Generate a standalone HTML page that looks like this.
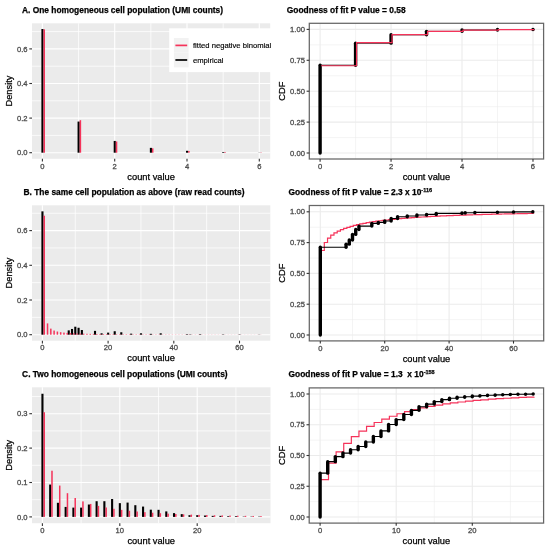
<!DOCTYPE html>
<html><head><meta charset="utf-8"><style>
html,body{margin:0;padding:0;background:#fff;width:549px;height:550px;overflow:hidden}
svg{display:block;will-change:transform}
text{font-family:"Liberation Sans",sans-serif}
</style></head><body>
<svg width="549" height="550" viewBox="0 0 549 550">
<rect x="32" y="23.3" width="238.2" height="135.5" fill="#EBEBEB"/>
<line x1="32" x2="270.2" y1="135.4" y2="135.4" stroke="#fff" stroke-width="0.75"/>
<line x1="32" x2="270.2" y1="100.8" y2="100.8" stroke="#fff" stroke-width="0.75"/>
<line x1="32" x2="270.2" y1="66.2" y2="66.2" stroke="#fff" stroke-width="0.75"/>
<line x1="32" x2="270.2" y1="31.6" y2="31.6" stroke="#fff" stroke-width="0.75"/>
<line x1="78.55" x2="78.55" y1="23.3" y2="158.8" stroke="#fff" stroke-width="0.75"/>
<line x1="150.85" x2="150.85" y1="23.3" y2="158.8" stroke="#fff" stroke-width="0.75"/>
<line x1="223.15" x2="223.15" y1="23.3" y2="158.8" stroke="#fff" stroke-width="0.75"/>
<line x1="32" x2="270.2" y1="152.7" y2="152.7" stroke="#fff" stroke-width="1.1"/>
<line x1="32" x2="270.2" y1="118.1" y2="118.1" stroke="#fff" stroke-width="1.1"/>
<line x1="32" x2="270.2" y1="83.5" y2="83.5" stroke="#fff" stroke-width="1.1"/>
<line x1="32" x2="270.2" y1="48.9" y2="48.9" stroke="#fff" stroke-width="1.1"/>
<line x1="42.4" x2="42.4" y1="23.3" y2="158.8" stroke="#fff" stroke-width="1.1"/>
<line x1="114.7" x2="114.7" y1="23.3" y2="158.8" stroke="#fff" stroke-width="1.1"/>
<line x1="187" x2="187" y1="23.3" y2="158.8" stroke="#fff" stroke-width="1.1"/>
<line x1="259.3" x2="259.3" y1="23.3" y2="158.8" stroke="#fff" stroke-width="1.1"/>
<line x1="29.3" x2="32" y1="152.7" y2="152.7" stroke="#333" stroke-width="1.1"/>
<text x="27.6" y="155.3" text-anchor="end" font-size="7.6" fill="#4D4D4D" stroke="#4D4D4D" stroke-width="0.3">0.0</text>
<line x1="29.3" x2="32" y1="118.1" y2="118.1" stroke="#333" stroke-width="1.1"/>
<text x="27.6" y="120.7" text-anchor="end" font-size="7.6" fill="#4D4D4D" stroke="#4D4D4D" stroke-width="0.3">0.2</text>
<line x1="29.3" x2="32" y1="83.5" y2="83.5" stroke="#333" stroke-width="1.1"/>
<text x="27.6" y="86.1" text-anchor="end" font-size="7.6" fill="#4D4D4D" stroke="#4D4D4D" stroke-width="0.3">0.4</text>
<line x1="29.3" x2="32" y1="48.9" y2="48.9" stroke="#333" stroke-width="1.1"/>
<text x="27.6" y="51.5" text-anchor="end" font-size="7.6" fill="#4D4D4D" stroke="#4D4D4D" stroke-width="0.3">0.6</text>
<line x1="42.4" x2="42.4" y1="158.8" y2="161.5" stroke="#333" stroke-width="1.1"/>
<text x="42.4" y="168.5" text-anchor="middle" font-size="7.6" fill="#4D4D4D" stroke="#4D4D4D" stroke-width="0.3">0</text>
<line x1="114.7" x2="114.7" y1="158.8" y2="161.5" stroke="#333" stroke-width="1.1"/>
<text x="114.7" y="168.5" text-anchor="middle" font-size="7.6" fill="#4D4D4D" stroke="#4D4D4D" stroke-width="0.3">2</text>
<line x1="187" x2="187" y1="158.8" y2="161.5" stroke="#333" stroke-width="1.1"/>
<text x="187" y="168.5" text-anchor="middle" font-size="7.6" fill="#4D4D4D" stroke="#4D4D4D" stroke-width="0.3">4</text>
<line x1="259.3" x2="259.3" y1="158.8" y2="161.5" stroke="#333" stroke-width="1.1"/>
<text x="259.3" y="168.5" text-anchor="middle" font-size="7.6" fill="#4D4D4D" stroke="#4D4D4D" stroke-width="0.3">6</text>
<text x="151.1" y="179.5" text-anchor="middle" font-size="9.3" fill="#000" stroke="#000" stroke-width="0.25">count value</text>
<text transform="translate(12,91.05) rotate(-90)" text-anchor="middle" font-size="9.3" fill="#000" stroke="#000" stroke-width="0.25">Density</text>
<rect x="41.4" y="29" width="2.1" height="123.69" fill="#000"/>
<rect x="77.55" y="121.56" width="2.1" height="31.14" fill="#000"/>
<rect x="113.7" y="140.94" width="2.1" height="11.76" fill="#000"/>
<rect x="149.85" y="147.86" width="2.1" height="4.84" fill="#000"/>
<rect x="186" y="150.8" width="2.1" height="1.9" fill="#000"/>
<rect x="222.15" y="152.01" width="2.1" height="0.69" fill="#000"/>
<rect x="258.3" y="152.53" width="2.1" height="0.17" fill="#000"/>
<rect x="43.5" y="29.35" width="1.5" height="123.35" fill="#F5335A"/>
<rect x="79.65" y="120.18" width="1.5" height="32.52" fill="#F5335A"/>
<rect x="115.8" y="141.49" width="1.5" height="11.21" fill="#F5335A"/>
<rect x="151.95" y="148.33" width="1.5" height="4.37" fill="#F5335A"/>
<rect x="188.1" y="150.92" width="1.5" height="1.78" fill="#F5335A"/>
<rect x="224.25" y="151.96" width="1.5" height="0.74" fill="#F5335A"/>
<rect x="260.4" y="152.39" width="1.5" height="0.31" fill="#F5335A"/>
<rect x="169.2" y="28.3" width="104" height="43.8" fill="#fff"/>
<rect x="173.9" y="38" width="14.7" height="14.7" fill="#F2F2F2"/>
<rect x="173.9" y="52.7" width="14.7" height="14.7" fill="#F2F2F2"/>
<line x1="175.4" x2="187.2" y1="45.4" y2="45.4" stroke="#F5335A" stroke-width="1.7"/>
<line x1="175.4" x2="187.2" y1="60" y2="60" stroke="#000" stroke-width="1.7"/>
<text x="193" y="48" font-size="7.65" fill="#000" stroke="#000" stroke-width="0.15">fitted negative binomial</text>
<text x="193" y="62.6" font-size="7.65" fill="#000" stroke="#000" stroke-width="0.15">empirical</text>
<text x="22" y="12.7" font-size="8.4" font-weight="bold" fill="#000" stroke="#000" stroke-width="0.25">A. One homogeneous cell population (UMI counts)</text>
<rect x="32" y="205.3" width="238.3" height="135.4" fill="#EBEBEB"/>
<line x1="32" x2="270.3" y1="317.35" y2="317.35" stroke="#fff" stroke-width="0.75"/>
<line x1="32" x2="270.3" y1="282.65" y2="282.65" stroke="#fff" stroke-width="0.75"/>
<line x1="32" x2="270.3" y1="247.95" y2="247.95" stroke="#fff" stroke-width="0.75"/>
<line x1="32" x2="270.3" y1="213.25" y2="213.25" stroke="#fff" stroke-width="0.75"/>
<line x1="75.25" x2="75.25" y1="205.3" y2="340.7" stroke="#fff" stroke-width="0.75"/>
<line x1="140.95" x2="140.95" y1="205.3" y2="340.7" stroke="#fff" stroke-width="0.75"/>
<line x1="206.65" x2="206.65" y1="205.3" y2="340.7" stroke="#fff" stroke-width="0.75"/>
<line x1="32" x2="270.3" y1="334.7" y2="334.7" stroke="#fff" stroke-width="1.1"/>
<line x1="32" x2="270.3" y1="300" y2="300" stroke="#fff" stroke-width="1.1"/>
<line x1="32" x2="270.3" y1="265.3" y2="265.3" stroke="#fff" stroke-width="1.1"/>
<line x1="32" x2="270.3" y1="230.6" y2="230.6" stroke="#fff" stroke-width="1.1"/>
<line x1="42.4" x2="42.4" y1="205.3" y2="340.7" stroke="#fff" stroke-width="1.1"/>
<line x1="108.1" x2="108.1" y1="205.3" y2="340.7" stroke="#fff" stroke-width="1.1"/>
<line x1="173.8" x2="173.8" y1="205.3" y2="340.7" stroke="#fff" stroke-width="1.1"/>
<line x1="239.5" x2="239.5" y1="205.3" y2="340.7" stroke="#fff" stroke-width="1.1"/>
<line x1="29.3" x2="32" y1="334.7" y2="334.7" stroke="#333" stroke-width="1.1"/>
<text x="27.6" y="337.3" text-anchor="end" font-size="7.6" fill="#4D4D4D" stroke="#4D4D4D" stroke-width="0.3">0.0</text>
<line x1="29.3" x2="32" y1="300" y2="300" stroke="#333" stroke-width="1.1"/>
<text x="27.6" y="302.6" text-anchor="end" font-size="7.6" fill="#4D4D4D" stroke="#4D4D4D" stroke-width="0.3">0.2</text>
<line x1="29.3" x2="32" y1="265.3" y2="265.3" stroke="#333" stroke-width="1.1"/>
<text x="27.6" y="267.9" text-anchor="end" font-size="7.6" fill="#4D4D4D" stroke="#4D4D4D" stroke-width="0.3">0.4</text>
<line x1="29.3" x2="32" y1="230.6" y2="230.6" stroke="#333" stroke-width="1.1"/>
<text x="27.6" y="233.2" text-anchor="end" font-size="7.6" fill="#4D4D4D" stroke="#4D4D4D" stroke-width="0.3">0.6</text>
<line x1="42.4" x2="42.4" y1="340.7" y2="343.4" stroke="#333" stroke-width="1.1"/>
<text x="42.4" y="350.4" text-anchor="middle" font-size="7.6" fill="#4D4D4D" stroke="#4D4D4D" stroke-width="0.3">0</text>
<line x1="108.1" x2="108.1" y1="340.7" y2="343.4" stroke="#333" stroke-width="1.1"/>
<text x="108.1" y="350.4" text-anchor="middle" font-size="7.6" fill="#4D4D4D" stroke="#4D4D4D" stroke-width="0.3">20</text>
<line x1="173.8" x2="173.8" y1="340.7" y2="343.4" stroke="#333" stroke-width="1.1"/>
<text x="173.8" y="350.4" text-anchor="middle" font-size="7.6" fill="#4D4D4D" stroke="#4D4D4D" stroke-width="0.3">40</text>
<line x1="239.5" x2="239.5" y1="340.7" y2="343.4" stroke="#333" stroke-width="1.1"/>
<text x="239.5" y="350.4" text-anchor="middle" font-size="7.6" fill="#4D4D4D" stroke="#4D4D4D" stroke-width="0.3">60</text>
<text x="151.15" y="361.4" text-anchor="middle" font-size="9.3" fill="#000" stroke="#000" stroke-width="0.25">count value</text>
<text transform="translate(12,273) rotate(-90)" text-anchor="middle" font-size="9.3" fill="#000" stroke="#000" stroke-width="0.25">Density</text>
<rect x="41.4" y="211.34" width="2.1" height="123.36" fill="#000"/>
<rect x="67.68" y="330.36" width="2.1" height="4.34" fill="#000"/>
<rect x="70.97" y="328.97" width="2.1" height="5.73" fill="#000"/>
<rect x="74.25" y="326.72" width="2.1" height="7.98" fill="#000"/>
<rect x="77.53" y="327.76" width="2.1" height="6.94" fill="#000"/>
<rect x="80.82" y="330.02" width="2.1" height="4.68" fill="#000"/>
<rect x="93.96" y="330.88" width="2.1" height="3.82" fill="#000"/>
<rect x="100.53" y="333.31" width="2.1" height="1.39" fill="#000"/>
<rect x="107.1" y="332.62" width="2.1" height="2.08" fill="#000"/>
<rect x="113.67" y="331.23" width="2.1" height="3.47" fill="#000"/>
<rect x="120.24" y="332.27" width="2.1" height="2.43" fill="#000"/>
<rect x="130.09" y="333.66" width="2.1" height="1.04" fill="#000"/>
<rect x="139.95" y="333.31" width="2.1" height="1.39" fill="#000"/>
<rect x="149.81" y="333.83" width="2.1" height="0.87" fill="#000"/>
<rect x="159.66" y="333.31" width="2.1" height="1.39" fill="#000"/>
<rect x="185.94" y="334.18" width="2.1" height="0.52" fill="#000"/>
<rect x="189.23" y="334.35" width="2.1" height="0.35" fill="#000"/>
<rect x="199.08" y="334.18" width="2.1" height="0.52" fill="#000"/>
<rect x="222.08" y="334.35" width="2.1" height="0.35" fill="#000"/>
<rect x="238.5" y="334.35" width="2.1" height="0.35" fill="#000"/>
<rect x="258.21" y="334.53" width="2.1" height="0.17" fill="#000"/>
<rect x="43.5" y="215.72" width="1.5" height="118.98" fill="#F5335A"/>
<rect x="46.79" y="323.39" width="1.5" height="11.31" fill="#F5335A"/>
<rect x="50.07" y="328.62" width="1.5" height="6.08" fill="#F5335A"/>
<rect x="53.35" y="330.54" width="1.5" height="4.16" fill="#F5335A"/>
<rect x="56.64" y="331.54" width="1.5" height="3.16" fill="#F5335A"/>
<rect x="59.93" y="332.17" width="1.5" height="2.53" fill="#F5335A"/>
<rect x="63.21" y="332.59" width="1.5" height="2.11" fill="#F5335A"/>
<rect x="66.49" y="332.9" width="1.5" height="1.8" fill="#F5335A"/>
<rect x="69.78" y="333.14" width="1.5" height="1.56" fill="#F5335A"/>
<rect x="73.06" y="333.32" width="1.5" height="1.38" fill="#F5335A"/>
<rect x="76.35" y="333.47" width="1.5" height="1.23" fill="#F5335A"/>
<rect x="79.63" y="333.6" width="1.5" height="1.1" fill="#F5335A"/>
<rect x="82.92" y="333.7" width="1.5" height="1" fill="#F5335A"/>
<rect x="86.2" y="333.79" width="1.5" height="0.91" fill="#F5335A"/>
<rect x="89.49" y="333.87" width="1.5" height="0.83" fill="#F5335A"/>
<rect x="92.78" y="333.93" width="1.5" height="0.77" fill="#F5335A"/>
<rect x="96.06" y="333.99" width="1.5" height="0.71" fill="#F5335A"/>
<rect x="99.34" y="334.04" width="1.5" height="0.66" fill="#F5335A"/>
<rect x="102.63" y="334.09" width="1.5" height="0.61" fill="#F5335A"/>
<rect x="105.91" y="334.13" width="1.5" height="0.57" fill="#F5335A"/>
<rect x="109.2" y="334.17" width="1.5" height="0.53" fill="#F5335A"/>
<rect x="112.48" y="334.2" width="1.5" height="0.5" fill="#F5335A"/>
<rect x="115.77" y="334.23" width="1.5" height="0.47" fill="#F5335A"/>
<rect x="119.06" y="334.26" width="1.5" height="0.44" fill="#F5335A"/>
<rect x="122.34" y="334.28" width="1.5" height="0.42" fill="#F5335A"/>
<rect x="125.62" y="334.31" width="1.5" height="0.39" fill="#F5335A"/>
<rect x="128.91" y="334.33" width="1.5" height="0.37" fill="#F5335A"/>
<rect x="132.19" y="334.35" width="1.5" height="0.35" fill="#F5335A"/>
<rect x="135.48" y="334.37" width="1.5" height="0.33" fill="#F5335A"/>
<rect x="138.76" y="334.38" width="1.5" height="0.32" fill="#F5335A"/>
<rect x="142.05" y="334.4" width="1.5" height="0.3" fill="#F5335A"/>
<rect x="145.34" y="334.41" width="1.5" height="0.29" fill="#F5335A"/>
<rect x="148.62" y="334.43" width="1.5" height="0.27" fill="#F5335A"/>
<rect x="151.91" y="334.44" width="1.5" height="0.26" fill="#F5335A"/>
<rect x="155.19" y="334.45" width="1.5" height="0.25" fill="#F5335A"/>
<rect x="158.47" y="334.46" width="1.5" height="0.24" fill="#F5335A"/>
<rect x="161.76" y="334.47" width="1.5" height="0.23" fill="#F5335A"/>
<rect x="165.04" y="334.48" width="1.5" height="0.22" fill="#F5335A"/>
<rect x="168.33" y="334.49" width="1.5" height="0.21" fill="#F5335A"/>
<rect x="171.62" y="334.5" width="1.5" height="0.2" fill="#F5335A"/>
<rect x="174.9" y="334.51" width="1.5" height="0.19" fill="#F5335A"/>
<rect x="178.19" y="334.52" width="1.5" height="0.18" fill="#F5335A"/>
<rect x="181.47" y="334.53" width="1.5" height="0.17" fill="#F5335A"/>
<rect x="184.75" y="334.53" width="1.5" height="0.17" fill="#F5335A"/>
<rect x="188.04" y="334.54" width="1.5" height="0.16" fill="#F5335A"/>
<rect x="191.33" y="334.55" width="1.5" height="0.15" fill="#F5335A"/>
<rect x="194.61" y="334.55" width="1.5" height="0.15" fill="#F5335A"/>
<rect x="197.9" y="334.56" width="1.5" height="0.14" fill="#F5335A"/>
<rect x="201.18" y="334.56" width="1.5" height="0.14" fill="#F5335A"/>
<rect x="204.47" y="334.57" width="1.5" height="0.13" fill="#F5335A"/>
<rect x="207.75" y="334.57" width="1.5" height="0.13" fill="#F5335A"/>
<rect x="211.03" y="334.58" width="1.5" height="0.12" fill="#F5335A"/>
<rect x="214.32" y="334.58" width="1.5" height="0.12" fill="#F5335A"/>
<rect x="217.61" y="334.59" width="1.5" height="0.11" fill="#F5335A"/>
<rect x="220.89" y="334.59" width="1.5" height="0.11" fill="#F5335A"/>
<rect x="224.18" y="334.6" width="1.5" height="0.1" fill="#F5335A"/>
<rect x="227.46" y="334.6" width="1.5" height="0.1" fill="#F5335A"/>
<rect x="230.75" y="334.6" width="1.5" height="0.1" fill="#F5335A"/>
<rect x="234.03" y="334.61" width="1.5" height="0.09" fill="#F5335A"/>
<rect x="237.31" y="334.61" width="1.5" height="0.09" fill="#F5335A"/>
<rect x="240.6" y="334.61" width="1.5" height="0.09" fill="#F5335A"/>
<rect x="243.89" y="334.62" width="1.5" height="0.08" fill="#F5335A"/>
<rect x="247.17" y="334.62" width="1.5" height="0.08" fill="#F5335A"/>
<rect x="250.46" y="334.62" width="1.5" height="0.08" fill="#F5335A"/>
<rect x="253.74" y="334.62" width="1.5" height="0.08" fill="#F5335A"/>
<rect x="257.03" y="334.63" width="1.5" height="0.07" fill="#F5335A"/>
<rect x="260.31" y="334.63" width="1.5" height="0.07" fill="#F5335A"/>
<text x="23.5" y="194.7" font-size="8.4" font-weight="bold" fill="#000" stroke="#000" stroke-width="0.25">B. The same cell population as above (raw read counts)</text>
<rect x="32" y="387.3" width="238.5" height="135.9" fill="#EBEBEB"/>
<line x1="32" x2="270.5" y1="499.7" y2="499.7" stroke="#fff" stroke-width="0.75"/>
<line x1="32" x2="270.5" y1="465.3" y2="465.3" stroke="#fff" stroke-width="0.75"/>
<line x1="32" x2="270.5" y1="430.9" y2="430.9" stroke="#fff" stroke-width="0.75"/>
<line x1="32" x2="270.5" y1="396.5" y2="396.5" stroke="#fff" stroke-width="0.75"/>
<line x1="81.1" x2="81.1" y1="387.3" y2="523.2" stroke="#fff" stroke-width="0.75"/>
<line x1="158.5" x2="158.5" y1="387.3" y2="523.2" stroke="#fff" stroke-width="0.75"/>
<line x1="235.9" x2="235.9" y1="387.3" y2="523.2" stroke="#fff" stroke-width="0.75"/>
<line x1="32" x2="270.5" y1="516.9" y2="516.9" stroke="#fff" stroke-width="1.1"/>
<line x1="32" x2="270.5" y1="482.5" y2="482.5" stroke="#fff" stroke-width="1.1"/>
<line x1="32" x2="270.5" y1="448.1" y2="448.1" stroke="#fff" stroke-width="1.1"/>
<line x1="32" x2="270.5" y1="413.7" y2="413.7" stroke="#fff" stroke-width="1.1"/>
<line x1="42.4" x2="42.4" y1="387.3" y2="523.2" stroke="#fff" stroke-width="1.1"/>
<line x1="119.8" x2="119.8" y1="387.3" y2="523.2" stroke="#fff" stroke-width="1.1"/>
<line x1="197.2" x2="197.2" y1="387.3" y2="523.2" stroke="#fff" stroke-width="1.1"/>
<line x1="29.3" x2="32" y1="516.9" y2="516.9" stroke="#333" stroke-width="1.1"/>
<text x="27.6" y="519.5" text-anchor="end" font-size="7.6" fill="#4D4D4D" stroke="#4D4D4D" stroke-width="0.3">0.0</text>
<line x1="29.3" x2="32" y1="482.5" y2="482.5" stroke="#333" stroke-width="1.1"/>
<text x="27.6" y="485.1" text-anchor="end" font-size="7.6" fill="#4D4D4D" stroke="#4D4D4D" stroke-width="0.3">0.1</text>
<line x1="29.3" x2="32" y1="448.1" y2="448.1" stroke="#333" stroke-width="1.1"/>
<text x="27.6" y="450.7" text-anchor="end" font-size="7.6" fill="#4D4D4D" stroke="#4D4D4D" stroke-width="0.3">0.2</text>
<line x1="29.3" x2="32" y1="413.7" y2="413.7" stroke="#333" stroke-width="1.1"/>
<text x="27.6" y="416.3" text-anchor="end" font-size="7.6" fill="#4D4D4D" stroke="#4D4D4D" stroke-width="0.3">0.3</text>
<line x1="42.4" x2="42.4" y1="523.2" y2="525.9" stroke="#333" stroke-width="1.1"/>
<text x="42.4" y="532.9" text-anchor="middle" font-size="7.6" fill="#4D4D4D" stroke="#4D4D4D" stroke-width="0.3">0</text>
<line x1="119.8" x2="119.8" y1="523.2" y2="525.9" stroke="#333" stroke-width="1.1"/>
<text x="119.8" y="532.9" text-anchor="middle" font-size="7.6" fill="#4D4D4D" stroke="#4D4D4D" stroke-width="0.3">10</text>
<line x1="197.2" x2="197.2" y1="523.2" y2="525.9" stroke="#333" stroke-width="1.1"/>
<text x="197.2" y="532.9" text-anchor="middle" font-size="7.6" fill="#4D4D4D" stroke="#4D4D4D" stroke-width="0.3">20</text>
<text x="151.25" y="543.9" text-anchor="middle" font-size="9.3" fill="#000" stroke="#000" stroke-width="0.25">count value</text>
<text transform="translate(12,455.25) rotate(-90)" text-anchor="middle" font-size="9.3" fill="#000" stroke="#000" stroke-width="0.25">Density</text>
<rect x="41.4" y="393.75" width="2.1" height="123.15" fill="#000"/>
<rect x="49.14" y="484.56" width="2.1" height="32.34" fill="#000"/>
<rect x="56.88" y="502.8" width="2.1" height="14.1" fill="#000"/>
<rect x="64.62" y="506.92" width="2.1" height="9.98" fill="#000"/>
<rect x="72.36" y="507.61" width="2.1" height="9.29" fill="#000"/>
<rect x="80.1" y="507.61" width="2.1" height="9.29" fill="#000"/>
<rect x="87.84" y="504.52" width="2.1" height="12.38" fill="#000"/>
<rect x="95.58" y="501.21" width="2.1" height="15.69" fill="#000"/>
<rect x="103.32" y="501.21" width="2.1" height="15.69" fill="#000"/>
<rect x="111.06" y="499.01" width="2.1" height="17.89" fill="#000"/>
<rect x="118.8" y="503.14" width="2.1" height="13.76" fill="#000"/>
<rect x="126.54" y="502.59" width="2.1" height="14.31" fill="#000"/>
<rect x="134.28" y="505.2" width="2.1" height="11.7" fill="#000"/>
<rect x="142.02" y="506.58" width="2.1" height="10.32" fill="#000"/>
<rect x="149.76" y="509.68" width="2.1" height="7.22" fill="#000"/>
<rect x="157.5" y="509.81" width="2.1" height="7.09" fill="#000"/>
<rect x="165.24" y="511.4" width="2.1" height="5.5" fill="#000"/>
<rect x="172.98" y="513.12" width="2.1" height="3.78" fill="#000"/>
<rect x="180.72" y="514.15" width="2.1" height="2.75" fill="#000"/>
<rect x="188.46" y="515.18" width="2.1" height="1.72" fill="#000"/>
<rect x="196.2" y="515.18" width="2.1" height="1.72" fill="#000"/>
<rect x="203.94" y="515.52" width="2.1" height="1.38" fill="#000"/>
<rect x="211.68" y="515.87" width="2.1" height="1.03" fill="#000"/>
<rect x="219.42" y="515.87" width="2.1" height="1.03" fill="#000"/>
<rect x="227.16" y="516.21" width="2.1" height="0.69" fill="#000"/>
<rect x="234.9" y="516.21" width="2.1" height="0.69" fill="#000"/>
<rect x="242.64" y="516.56" width="2.1" height="0.34" fill="#000"/>
<rect x="250.38" y="516.56" width="2.1" height="0.34" fill="#000"/>
<rect x="258.12" y="516.56" width="2.1" height="0.34" fill="#000"/>
<rect x="43.5" y="412.24" width="1.5" height="104.66" fill="#F5335A"/>
<rect x="51.24" y="470.72" width="1.5" height="46.18" fill="#F5335A"/>
<rect x="58.98" y="485.58" width="1.5" height="31.32" fill="#F5335A"/>
<rect x="66.72" y="493.18" width="1.5" height="23.72" fill="#F5335A"/>
<rect x="74.46" y="498" width="1.5" height="18.9" fill="#F5335A"/>
<rect x="82.2" y="501.4" width="1.5" height="15.5" fill="#F5335A"/>
<rect x="89.94" y="503.93" width="1.5" height="12.97" fill="#F5335A"/>
<rect x="97.68" y="505.91" width="1.5" height="10.99" fill="#F5335A"/>
<rect x="105.42" y="507.49" width="1.5" height="9.41" fill="#F5335A"/>
<rect x="113.16" y="508.79" width="1.5" height="8.11" fill="#F5335A"/>
<rect x="120.9" y="509.86" width="1.5" height="7.04" fill="#F5335A"/>
<rect x="128.64" y="510.76" width="1.5" height="6.14" fill="#F5335A"/>
<rect x="136.38" y="511.52" width="1.5" height="5.38" fill="#F5335A"/>
<rect x="144.12" y="512.17" width="1.5" height="4.73" fill="#F5335A"/>
<rect x="151.86" y="512.73" width="1.5" height="4.17" fill="#F5335A"/>
<rect x="159.6" y="513.22" width="1.5" height="3.68" fill="#F5335A"/>
<rect x="167.34" y="513.64" width="1.5" height="3.26" fill="#F5335A"/>
<rect x="175.08" y="514.01" width="1.5" height="2.89" fill="#F5335A"/>
<rect x="182.82" y="514.33" width="1.5" height="2.57" fill="#F5335A"/>
<rect x="190.56" y="514.61" width="1.5" height="2.29" fill="#F5335A"/>
<rect x="198.3" y="514.86" width="1.5" height="2.04" fill="#F5335A"/>
<rect x="206.04" y="515.08" width="1.5" height="1.82" fill="#F5335A"/>
<rect x="213.78" y="515.27" width="1.5" height="1.63" fill="#F5335A"/>
<rect x="221.52" y="515.44" width="1.5" height="1.46" fill="#F5335A"/>
<rect x="229.26" y="515.59" width="1.5" height="1.31" fill="#F5335A"/>
<rect x="237" y="515.73" width="1.5" height="1.17" fill="#F5335A"/>
<rect x="244.74" y="515.85" width="1.5" height="1.05" fill="#F5335A"/>
<rect x="252.48" y="515.96" width="1.5" height="0.94" fill="#F5335A"/>
<rect x="260.22" y="516.05" width="1.5" height="0.85" fill="#F5335A"/>
<text x="22.1" y="377" font-size="8.4" font-weight="bold" fill="#000" stroke="#000" stroke-width="0.25">C. Two homogeneous cell populations (UMI counts)</text>
<rect x="309.3" y="23.3" width="234.3" height="135.7" fill="#fff"/>
<line x1="309.3" x2="543.6" y1="137.55" y2="137.55" stroke="#EBEBEB" stroke-width="0.55"/>
<line x1="309.3" x2="543.6" y1="106.65" y2="106.65" stroke="#EBEBEB" stroke-width="0.55"/>
<line x1="309.3" x2="543.6" y1="75.75" y2="75.75" stroke="#EBEBEB" stroke-width="0.55"/>
<line x1="309.3" x2="543.6" y1="44.85" y2="44.85" stroke="#EBEBEB" stroke-width="0.55"/>
<line x1="355.58" x2="355.58" y1="23.3" y2="159" stroke="#EBEBEB" stroke-width="0.55"/>
<line x1="426.54" x2="426.54" y1="23.3" y2="159" stroke="#EBEBEB" stroke-width="0.55"/>
<line x1="497.5" x2="497.5" y1="23.3" y2="159" stroke="#EBEBEB" stroke-width="0.55"/>
<line x1="309.3" x2="543.6" y1="153" y2="153" stroke="#EBEBEB" stroke-width="1.1"/>
<line x1="309.3" x2="543.6" y1="122.1" y2="122.1" stroke="#EBEBEB" stroke-width="1.1"/>
<line x1="309.3" x2="543.6" y1="91.2" y2="91.2" stroke="#EBEBEB" stroke-width="1.1"/>
<line x1="309.3" x2="543.6" y1="60.3" y2="60.3" stroke="#EBEBEB" stroke-width="1.1"/>
<line x1="309.3" x2="543.6" y1="29.4" y2="29.4" stroke="#EBEBEB" stroke-width="1.1"/>
<line x1="320.1" x2="320.1" y1="23.3" y2="159" stroke="#EBEBEB" stroke-width="1.1"/>
<line x1="391.06" x2="391.06" y1="23.3" y2="159" stroke="#EBEBEB" stroke-width="1.1"/>
<line x1="462.02" x2="462.02" y1="23.3" y2="159" stroke="#EBEBEB" stroke-width="1.1"/>
<line x1="532.98" x2="532.98" y1="23.3" y2="159" stroke="#EBEBEB" stroke-width="1.1"/>
<path d="M320.1,65.24 L355.58,65.24 L355.58,43.15 L391.06,43.15 L391.06,34.8 L426.54,34.8 L426.54,31.36 L462.02,31.36 L462.02,30.01 L497.5,30.01 L497.5,29.52 L532.98,29.52 L532.98,29.4" fill="none" stroke="#000" stroke-width="1.0"/>
<line x1="320.1" x2="320.1" y1="153" y2="65.23" stroke="#000" stroke-width="3.4" stroke-linecap="round"/>
<line x1="355.58" x2="355.58" y1="65.24" y2="43.14" stroke="#000" stroke-width="3.4" stroke-linecap="round"/>
<line x1="391.06" x2="391.06" y1="43.15" y2="34.79" stroke="#000" stroke-width="3.4" stroke-linecap="round"/>
<line x1="426.54" x2="426.54" y1="34.8" y2="31.35" stroke="#000" stroke-width="3.4" stroke-linecap="round"/>
<line x1="462.02" x2="462.02" y1="31.36" y2="30" stroke="#000" stroke-width="3.4" stroke-linecap="round"/>
<line x1="497.5" x2="497.5" y1="30.01" y2="29.51" stroke="#000" stroke-width="3.4" stroke-linecap="round"/>
<line x1="532.98" x2="532.98" y1="29.52" y2="29.39" stroke="#000" stroke-width="3.4" stroke-linecap="round"/>
<path d="M321.1,65.77 L356.58,65.77 L356.58,42.54 L392.06,42.54 L392.06,34.53 L427.54,34.53 L427.54,31.4 L463.02,31.4 L463.02,30.13 L498.5,30.13 L498.5,29.6 L533.98,29.6 L533.98,29.38" fill="none" stroke="#F5335A" stroke-width="1.2"/>
<rect x="309.3" y="23.3" width="234.3" height="135.7" fill="none" stroke="#666" stroke-width="1.25"/>
<line x1="306.6" x2="309.3" y1="153" y2="153" stroke="#333" stroke-width="1.1"/>
<text x="304.9" y="155.6" text-anchor="end" font-size="7.6" fill="#4D4D4D" stroke="#4D4D4D" stroke-width="0.3">0.00</text>
<line x1="306.6" x2="309.3" y1="122.1" y2="122.1" stroke="#333" stroke-width="1.1"/>
<text x="304.9" y="124.7" text-anchor="end" font-size="7.6" fill="#4D4D4D" stroke="#4D4D4D" stroke-width="0.3">0.25</text>
<line x1="306.6" x2="309.3" y1="91.2" y2="91.2" stroke="#333" stroke-width="1.1"/>
<text x="304.9" y="93.8" text-anchor="end" font-size="7.6" fill="#4D4D4D" stroke="#4D4D4D" stroke-width="0.3">0.50</text>
<line x1="306.6" x2="309.3" y1="60.3" y2="60.3" stroke="#333" stroke-width="1.1"/>
<text x="304.9" y="62.9" text-anchor="end" font-size="7.6" fill="#4D4D4D" stroke="#4D4D4D" stroke-width="0.3">0.75</text>
<line x1="306.6" x2="309.3" y1="29.4" y2="29.4" stroke="#333" stroke-width="1.1"/>
<text x="304.9" y="32" text-anchor="end" font-size="7.6" fill="#4D4D4D" stroke="#4D4D4D" stroke-width="0.3">1.00</text>
<line x1="320.1" x2="320.1" y1="159" y2="161.7" stroke="#333" stroke-width="1.1"/>
<text x="320.1" y="168.7" text-anchor="middle" font-size="7.6" fill="#4D4D4D" stroke="#4D4D4D" stroke-width="0.3">0</text>
<line x1="391.06" x2="391.06" y1="159" y2="161.7" stroke="#333" stroke-width="1.1"/>
<text x="391.06" y="168.7" text-anchor="middle" font-size="7.6" fill="#4D4D4D" stroke="#4D4D4D" stroke-width="0.3">2</text>
<line x1="462.02" x2="462.02" y1="159" y2="161.7" stroke="#333" stroke-width="1.1"/>
<text x="462.02" y="168.7" text-anchor="middle" font-size="7.6" fill="#4D4D4D" stroke="#4D4D4D" stroke-width="0.3">4</text>
<line x1="532.98" x2="532.98" y1="159" y2="161.7" stroke="#333" stroke-width="1.1"/>
<text x="532.98" y="168.7" text-anchor="middle" font-size="7.6" fill="#4D4D4D" stroke="#4D4D4D" stroke-width="0.3">6</text>
<text x="426.45" y="179.7" text-anchor="middle" font-size="9.3" fill="#000" stroke="#000" stroke-width="0.25">count value</text>
<text transform="translate(285.3,91.15) rotate(-90)" text-anchor="middle" font-size="9.3" fill="#000" stroke="#000" stroke-width="0.25">CDF</text>
<text x="286.8" y="12.7" font-size="8.4" font-weight="bold" fill="#000" stroke="#000" stroke-width="0.25">Goodness of fit P value = 0.58</text>
<rect x="309.3" y="205.5" width="234.4" height="135.4" fill="#fff"/>
<line x1="309.3" x2="543.7" y1="319.6" y2="319.6" stroke="#EBEBEB" stroke-width="0.55"/>
<line x1="309.3" x2="543.7" y1="288.8" y2="288.8" stroke="#EBEBEB" stroke-width="0.55"/>
<line x1="309.3" x2="543.7" y1="258" y2="258" stroke="#EBEBEB" stroke-width="0.55"/>
<line x1="309.3" x2="543.7" y1="227.2" y2="227.2" stroke="#EBEBEB" stroke-width="0.55"/>
<line x1="352.5" x2="352.5" y1="205.5" y2="340.9" stroke="#EBEBEB" stroke-width="0.55"/>
<line x1="416.9" x2="416.9" y1="205.5" y2="340.9" stroke="#EBEBEB" stroke-width="0.55"/>
<line x1="481.3" x2="481.3" y1="205.5" y2="340.9" stroke="#EBEBEB" stroke-width="0.55"/>
<line x1="309.3" x2="543.7" y1="335" y2="335" stroke="#EBEBEB" stroke-width="1.1"/>
<line x1="309.3" x2="543.7" y1="304.2" y2="304.2" stroke="#EBEBEB" stroke-width="1.1"/>
<line x1="309.3" x2="543.7" y1="273.4" y2="273.4" stroke="#EBEBEB" stroke-width="1.1"/>
<line x1="309.3" x2="543.7" y1="242.6" y2="242.6" stroke="#EBEBEB" stroke-width="1.1"/>
<line x1="309.3" x2="543.7" y1="211.8" y2="211.8" stroke="#EBEBEB" stroke-width="1.1"/>
<line x1="320.3" x2="320.3" y1="205.5" y2="340.9" stroke="#EBEBEB" stroke-width="1.1"/>
<line x1="384.7" x2="384.7" y1="205.5" y2="340.9" stroke="#EBEBEB" stroke-width="1.1"/>
<line x1="449.1" x2="449.1" y1="205.5" y2="340.9" stroke="#EBEBEB" stroke-width="1.1"/>
<line x1="513.5" x2="513.5" y1="205.5" y2="340.9" stroke="#EBEBEB" stroke-width="1.1"/>
<path d="M321.1,250.52 L324.32,250.52 L324.32,242.49 L327.54,242.49 L327.54,238.17 L330.76,238.17 L330.76,235.22 L333.98,235.22 L333.98,232.97 L337.2,232.97 L337.2,231.18 L340.42,231.18 L340.42,229.68 L343.64,229.68 L343.64,228.4 L346.86,228.4 L346.86,227.29 L350.08,227.29 L350.08,226.32 L353.3,226.32 L353.3,225.44 L356.52,225.44 L356.52,224.66 L359.74,224.66 L359.74,223.95 L362.96,223.95 L362.96,223.31 L366.18,223.31 L366.18,222.71 L369.4,222.71 L369.4,222.17 L372.62,222.17 L372.62,221.66 L375.84,221.66 L375.84,221.2 L379.06,221.2 L379.06,220.76 L382.28,220.76 L382.28,220.36 L385.5,220.36 L385.5,219.98 L388.72,219.98 L388.72,219.62 L391.94,219.62 L391.94,219.29 L395.16,219.29 L395.16,218.97 L398.38,218.97 L398.38,218.68 L401.6,218.68 L401.6,218.4 L404.82,218.4 L404.82,218.13 L408.04,218.13 L408.04,217.88 L411.26,217.88 L411.26,217.64 L414.48,217.64 L414.48,217.42 L417.7,217.42 L417.7,217.2 L420.92,217.2 L420.92,217 L424.14,217 L424.14,216.81 L427.36,216.81 L427.36,216.62 L430.58,216.62 L430.58,216.45 L433.8,216.45 L433.8,216.28 L437.02,216.28 L437.02,216.12 L440.24,216.12 L440.24,215.96 L443.46,215.96 L443.46,215.82 L446.68,215.82 L446.68,215.68 L449.9,215.68 L449.9,215.54 L453.12,215.54 L453.12,215.41 L456.34,215.41 L456.34,215.29 L459.56,215.29 L459.56,215.17 L462.78,215.17 L462.78,215.06 L466,215.06 L466,214.95 L469.22,214.95 L469.22,214.85 L472.44,214.85 L472.44,214.75 L475.66,214.75 L475.66,214.65 L478.88,214.65 L478.88,214.56 L482.1,214.56 L482.1,214.47 L485.32,214.47 L485.32,214.38 L488.54,214.38 L488.54,214.3 L491.76,214.3 L491.76,214.22 L494.98,214.22 L494.98,214.14 L498.2,214.14 L498.2,214.07 L501.42,214.07 L501.42,214 L504.64,214 L504.64,213.93 L507.86,213.93 L507.86,213.86 L511.08,213.86 L511.08,213.8 L514.3,213.8 L514.3,213.74 L517.52,213.74 L517.52,213.68 L520.74,213.68 L520.74,213.62 L523.96,213.62 L523.96,213.57 L527.18,213.57 L527.18,213.51 L530.4,213.51 L530.4,213.46 L533.62,213.46 L533.62,213.41" fill="none" stroke="#F5335A" stroke-width="1.2"/>
<path d="M320.3,247.23 L323.52,247.23 L323.52,247.23 L326.74,247.23 L326.74,247.23 L329.96,247.23 L329.96,247.23 L333.18,247.23 L333.18,247.23 L336.4,247.23 L336.4,247.23 L339.62,247.23 L339.62,247.23 L342.84,247.23 L342.84,247.23 L346.06,247.23 L346.06,244.14 L349.28,244.14 L349.28,240.07 L352.5,240.07 L352.5,234.39 L355.72,234.39 L355.72,229.45 L358.94,229.45 L358.94,226.12 L362.16,226.12 L362.16,226.12 L365.38,226.12 L365.38,226.12 L368.6,226.12 L368.6,226.12 L371.82,226.12 L371.82,223.4 L375.04,223.4 L375.04,223.4 L378.26,223.4 L378.26,222.42 L381.48,222.42 L381.48,222.42 L384.7,222.42 L384.7,220.94 L387.92,220.94 L387.92,220.94 L391.14,220.94 L391.14,218.47 L394.36,218.47 L394.36,218.47 L397.58,218.47 L397.58,216.74 L400.8,216.74 L400.8,216.74 L404.02,216.74 L404.02,216.74 L407.24,216.74 L407.24,216 L410.46,216 L410.46,216 L413.68,216 L413.68,216 L416.9,216 L416.9,215.01 L420.12,215.01 L420.12,215.01 L423.34,215.01 L423.34,215.01 L426.56,215.01 L426.56,214.39 L429.78,214.39 L429.78,214.39 L433,214.39 L433,214.39 L436.22,214.39 L436.22,213.4 L439.44,213.4 L439.44,213.4 L442.66,213.4 L442.66,213.4 L445.88,213.4 L445.88,213.4 L449.1,213.4 L449.1,213.4 L452.32,213.4 L452.32,213.4 L455.54,213.4 L455.54,213.4 L458.76,213.4 L458.76,213.4 L461.98,213.4 L461.98,213.03 L465.2,213.03 L465.2,212.79 L468.42,212.79 L468.42,212.79 L471.64,212.79 L471.64,212.79 L474.86,212.79 L474.86,212.42 L478.08,212.42 L478.08,212.42 L481.3,212.42 L481.3,212.42 L484.52,212.42 L484.52,212.42 L487.74,212.42 L487.74,212.42 L490.96,212.42 L490.96,212.42 L494.18,212.42 L494.18,212.42 L497.4,212.42 L497.4,212.17 L500.62,212.17 L500.62,212.17 L503.84,212.17 L503.84,212.17 L507.06,212.17 L507.06,212.17 L510.28,212.17 L510.28,212.17 L513.5,212.17 L513.5,211.92 L516.72,211.92 L516.72,211.92 L519.94,211.92 L519.94,211.92 L523.16,211.92 L523.16,211.92 L526.38,211.92 L526.38,211.92 L529.6,211.92 L529.6,211.92 L532.82,211.92 L532.82,211.8" fill="none" stroke="#000" stroke-width="1.1"/>
<line x1="320.3" x2="320.3" y1="335" y2="247.22" stroke="#000" stroke-width="3.4" stroke-linecap="round"/>
<line x1="346.06" x2="346.06" y1="247.23" y2="244.13" stroke="#000" stroke-width="3.4" stroke-linecap="round"/>
<line x1="349.28" x2="349.28" y1="244.14" y2="240.06" stroke="#000" stroke-width="3.4" stroke-linecap="round"/>
<line x1="352.5" x2="352.5" y1="240.07" y2="234.38" stroke="#000" stroke-width="3.4" stroke-linecap="round"/>
<line x1="355.72" x2="355.72" y1="234.39" y2="229.44" stroke="#000" stroke-width="3.4" stroke-linecap="round"/>
<line x1="358.94" x2="358.94" y1="229.45" y2="226.11" stroke="#000" stroke-width="3.4" stroke-linecap="round"/>
<line x1="371.82" x2="371.82" y1="226.12" y2="223.39" stroke="#000" stroke-width="3.4" stroke-linecap="round"/>
<line x1="378.26" x2="378.26" y1="223.4" y2="222.41" stroke="#000" stroke-width="3.4" stroke-linecap="round"/>
<line x1="384.7" x2="384.7" y1="222.42" y2="220.93" stroke="#000" stroke-width="3.4" stroke-linecap="round"/>
<line x1="391.14" x2="391.14" y1="220.94" y2="218.46" stroke="#000" stroke-width="3.4" stroke-linecap="round"/>
<line x1="397.58" x2="397.58" y1="218.47" y2="216.73" stroke="#000" stroke-width="3.4" stroke-linecap="round"/>
<line x1="407.24" x2="407.24" y1="216.74" y2="215.99" stroke="#000" stroke-width="3.4" stroke-linecap="round"/>
<line x1="416.9" x2="416.9" y1="216" y2="215" stroke="#000" stroke-width="3.4" stroke-linecap="round"/>
<line x1="426.56" x2="426.56" y1="215.01" y2="214.38" stroke="#000" stroke-width="3.4" stroke-linecap="round"/>
<line x1="436.22" x2="436.22" y1="214.39" y2="213.39" stroke="#000" stroke-width="3.4" stroke-linecap="round"/>
<line x1="461.98" x2="461.98" y1="213.4" y2="213.02" stroke="#000" stroke-width="3.4" stroke-linecap="round"/>
<line x1="465.2" x2="465.2" y1="213.03" y2="212.78" stroke="#000" stroke-width="3.4" stroke-linecap="round"/>
<line x1="474.86" x2="474.86" y1="212.79" y2="212.41" stroke="#000" stroke-width="3.4" stroke-linecap="round"/>
<line x1="497.4" x2="497.4" y1="212.42" y2="212.16" stroke="#000" stroke-width="3.4" stroke-linecap="round"/>
<line x1="513.5" x2="513.5" y1="212.17" y2="211.91" stroke="#000" stroke-width="3.4" stroke-linecap="round"/>
<line x1="532.82" x2="532.82" y1="211.92" y2="211.79" stroke="#000" stroke-width="3.4" stroke-linecap="round"/>
<rect x="309.3" y="205.5" width="234.4" height="135.4" fill="none" stroke="#666" stroke-width="1.25"/>
<line x1="306.6" x2="309.3" y1="335" y2="335" stroke="#333" stroke-width="1.1"/>
<text x="304.9" y="337.6" text-anchor="end" font-size="7.6" fill="#4D4D4D" stroke="#4D4D4D" stroke-width="0.3">0.00</text>
<line x1="306.6" x2="309.3" y1="304.2" y2="304.2" stroke="#333" stroke-width="1.1"/>
<text x="304.9" y="306.8" text-anchor="end" font-size="7.6" fill="#4D4D4D" stroke="#4D4D4D" stroke-width="0.3">0.25</text>
<line x1="306.6" x2="309.3" y1="273.4" y2="273.4" stroke="#333" stroke-width="1.1"/>
<text x="304.9" y="276" text-anchor="end" font-size="7.6" fill="#4D4D4D" stroke="#4D4D4D" stroke-width="0.3">0.50</text>
<line x1="306.6" x2="309.3" y1="242.6" y2="242.6" stroke="#333" stroke-width="1.1"/>
<text x="304.9" y="245.2" text-anchor="end" font-size="7.6" fill="#4D4D4D" stroke="#4D4D4D" stroke-width="0.3">0.75</text>
<line x1="306.6" x2="309.3" y1="211.8" y2="211.8" stroke="#333" stroke-width="1.1"/>
<text x="304.9" y="214.4" text-anchor="end" font-size="7.6" fill="#4D4D4D" stroke="#4D4D4D" stroke-width="0.3">1.00</text>
<line x1="320.3" x2="320.3" y1="340.9" y2="343.6" stroke="#333" stroke-width="1.1"/>
<text x="320.3" y="350.6" text-anchor="middle" font-size="7.6" fill="#4D4D4D" stroke="#4D4D4D" stroke-width="0.3">0</text>
<line x1="384.7" x2="384.7" y1="340.9" y2="343.6" stroke="#333" stroke-width="1.1"/>
<text x="384.7" y="350.6" text-anchor="middle" font-size="7.6" fill="#4D4D4D" stroke="#4D4D4D" stroke-width="0.3">20</text>
<line x1="449.1" x2="449.1" y1="340.9" y2="343.6" stroke="#333" stroke-width="1.1"/>
<text x="449.1" y="350.6" text-anchor="middle" font-size="7.6" fill="#4D4D4D" stroke="#4D4D4D" stroke-width="0.3">40</text>
<line x1="513.5" x2="513.5" y1="340.9" y2="343.6" stroke="#333" stroke-width="1.1"/>
<text x="513.5" y="350.6" text-anchor="middle" font-size="7.6" fill="#4D4D4D" stroke="#4D4D4D" stroke-width="0.3">60</text>
<text x="426.5" y="361.6" text-anchor="middle" font-size="9.3" fill="#000" stroke="#000" stroke-width="0.25">count value</text>
<text transform="translate(285.3,273.2) rotate(-90)" text-anchor="middle" font-size="9.3" fill="#000" stroke="#000" stroke-width="0.25">CDF</text>
<text x="288.6" y="194.7" font-size="8.4" font-weight="bold" fill="#000" stroke="#000" stroke-width="0.25">Goodness of fit P value = 2.3 x 10<tspan dy="-3" font-size="5.5">-116</tspan></text>
<rect x="309.2" y="387.9" width="234.4" height="135.2" fill="#fff"/>
<line x1="309.2" x2="543.6" y1="501.62" y2="501.62" stroke="#EBEBEB" stroke-width="0.55"/>
<line x1="309.2" x2="543.6" y1="470.88" y2="470.88" stroke="#EBEBEB" stroke-width="0.55"/>
<line x1="309.2" x2="543.6" y1="440.12" y2="440.12" stroke="#EBEBEB" stroke-width="0.55"/>
<line x1="309.2" x2="543.6" y1="409.38" y2="409.38" stroke="#EBEBEB" stroke-width="0.55"/>
<line x1="358.15" x2="358.15" y1="387.9" y2="523.1" stroke="#EBEBEB" stroke-width="0.55"/>
<line x1="434.25" x2="434.25" y1="387.9" y2="523.1" stroke="#EBEBEB" stroke-width="0.55"/>
<line x1="510.35" x2="510.35" y1="387.9" y2="523.1" stroke="#EBEBEB" stroke-width="0.55"/>
<line x1="309.2" x2="543.6" y1="517" y2="517" stroke="#EBEBEB" stroke-width="1.1"/>
<line x1="309.2" x2="543.6" y1="486.25" y2="486.25" stroke="#EBEBEB" stroke-width="1.1"/>
<line x1="309.2" x2="543.6" y1="455.5" y2="455.5" stroke="#EBEBEB" stroke-width="1.1"/>
<line x1="309.2" x2="543.6" y1="424.75" y2="424.75" stroke="#EBEBEB" stroke-width="1.1"/>
<line x1="309.2" x2="543.6" y1="394" y2="394" stroke="#EBEBEB" stroke-width="1.1"/>
<line x1="320.1" x2="320.1" y1="387.9" y2="523.1" stroke="#EBEBEB" stroke-width="1.1"/>
<line x1="396.2" x2="396.2" y1="387.9" y2="523.1" stroke="#EBEBEB" stroke-width="1.1"/>
<line x1="472.3" x2="472.3" y1="387.9" y2="523.1" stroke="#EBEBEB" stroke-width="1.1"/>
<path d="M320.9,479.58 L328.51,479.58 L328.51,463.07 L336.12,463.07 L336.12,451.87 L343.73,451.87 L343.73,443.39 L351.34,443.39 L351.34,436.63 L358.95,436.63 L358.95,431.09 L366.56,431.09 L366.56,426.45 L374.17,426.45 L374.17,422.52 L381.78,422.52 L381.78,419.16 L389.39,419.16 L389.39,416.26 L397,416.26 L397,413.74 L404.61,413.74 L404.61,411.54 L412.22,411.54 L412.22,409.62 L419.83,409.62 L419.83,407.93 L427.44,407.93 L427.44,406.44 L435.05,406.44 L435.05,405.12 L442.66,405.12 L442.66,403.96 L450.27,403.96 L450.27,402.92 L457.88,402.92 L457.88,402 L465.49,402 L465.49,401.18 L473.1,401.18 L473.1,400.45 L480.71,400.45 L480.71,399.8 L488.32,399.8 L488.32,399.22 L495.93,399.22 L495.93,398.7 L503.54,398.7 L503.54,398.23 L511.15,398.23 L511.15,397.81 L518.76,397.81 L518.76,397.44 L526.37,397.44 L526.37,397.1 L533.98,397.1 L533.98,396.8" fill="none" stroke="#F5335A" stroke-width="1.2"/>
<path d="M320.1,473.16 L327.71,473.16 L327.71,461.65 L335.32,461.65 L335.32,456.63 L342.93,456.63 L342.93,453.08 L350.54,453.08 L350.54,449.77 L358.15,449.77 L358.15,446.46 L365.76,446.46 L365.76,442.05 L373.37,442.05 L373.37,436.47 L380.98,436.47 L380.98,430.89 L388.59,430.89 L388.59,424.52 L396.2,424.52 L396.2,419.62 L403.81,419.62 L403.81,414.52 L411.42,414.52 L411.42,410.36 L419.03,410.36 L419.03,406.69 L426.64,406.69 L426.64,404.12 L434.25,404.12 L434.25,401.59 L441.86,401.59 L441.86,399.63 L449.47,399.63 L449.47,398.29 L457.08,398.29 L457.08,397.31 L464.69,397.31 L464.69,396.69 L472.3,396.69 L472.3,396.08 L479.91,396.08 L479.91,395.59 L487.52,395.59 L487.52,395.22 L495.13,395.22 L495.13,394.86 L502.74,394.86 L502.74,394.61 L510.35,394.61 L510.35,394.37 L517.96,394.37 L517.96,394.24 L525.57,394.24 L525.57,394.12 L533.18,394.12 L533.18,394" fill="none" stroke="#000" stroke-width="1.1"/>
<line x1="320.1" x2="320.1" y1="517" y2="473.15" stroke="#000" stroke-width="3.4" stroke-linecap="round"/>
<line x1="327.71" x2="327.71" y1="473.16" y2="461.64" stroke="#000" stroke-width="3.4" stroke-linecap="round"/>
<line x1="335.32" x2="335.32" y1="461.65" y2="456.62" stroke="#000" stroke-width="3.4" stroke-linecap="round"/>
<line x1="342.93" x2="342.93" y1="456.63" y2="453.07" stroke="#000" stroke-width="3.4" stroke-linecap="round"/>
<line x1="350.54" x2="350.54" y1="453.08" y2="449.76" stroke="#000" stroke-width="3.4" stroke-linecap="round"/>
<line x1="358.15" x2="358.15" y1="449.77" y2="446.45" stroke="#000" stroke-width="3.4" stroke-linecap="round"/>
<line x1="365.76" x2="365.76" y1="446.46" y2="442.04" stroke="#000" stroke-width="3.4" stroke-linecap="round"/>
<line x1="373.37" x2="373.37" y1="442.05" y2="436.46" stroke="#000" stroke-width="3.4" stroke-linecap="round"/>
<line x1="380.98" x2="380.98" y1="436.47" y2="430.88" stroke="#000" stroke-width="3.4" stroke-linecap="round"/>
<line x1="388.59" x2="388.59" y1="430.89" y2="424.51" stroke="#000" stroke-width="3.4" stroke-linecap="round"/>
<line x1="396.2" x2="396.2" y1="424.52" y2="419.61" stroke="#000" stroke-width="3.4" stroke-linecap="round"/>
<line x1="403.81" x2="403.81" y1="419.62" y2="414.51" stroke="#000" stroke-width="3.4" stroke-linecap="round"/>
<line x1="411.42" x2="411.42" y1="414.52" y2="410.35" stroke="#000" stroke-width="3.4" stroke-linecap="round"/>
<line x1="419.03" x2="419.03" y1="410.36" y2="406.68" stroke="#000" stroke-width="3.4" stroke-linecap="round"/>
<line x1="426.64" x2="426.64" y1="406.69" y2="404.11" stroke="#000" stroke-width="3.4" stroke-linecap="round"/>
<line x1="434.25" x2="434.25" y1="404.12" y2="401.58" stroke="#000" stroke-width="3.4" stroke-linecap="round"/>
<line x1="441.86" x2="441.86" y1="401.59" y2="399.62" stroke="#000" stroke-width="3.4" stroke-linecap="round"/>
<line x1="449.47" x2="449.47" y1="399.63" y2="398.28" stroke="#000" stroke-width="3.4" stroke-linecap="round"/>
<line x1="457.08" x2="457.08" y1="398.29" y2="397.3" stroke="#000" stroke-width="3.4" stroke-linecap="round"/>
<line x1="464.69" x2="464.69" y1="397.31" y2="396.68" stroke="#000" stroke-width="3.4" stroke-linecap="round"/>
<line x1="472.3" x2="472.3" y1="396.69" y2="396.07" stroke="#000" stroke-width="3.4" stroke-linecap="round"/>
<line x1="479.91" x2="479.91" y1="396.08" y2="395.58" stroke="#000" stroke-width="3.4" stroke-linecap="round"/>
<line x1="487.52" x2="487.52" y1="395.59" y2="395.21" stroke="#000" stroke-width="3.4" stroke-linecap="round"/>
<line x1="495.13" x2="495.13" y1="395.22" y2="394.85" stroke="#000" stroke-width="3.4" stroke-linecap="round"/>
<line x1="502.74" x2="502.74" y1="394.86" y2="394.6" stroke="#000" stroke-width="3.4" stroke-linecap="round"/>
<line x1="510.35" x2="510.35" y1="394.61" y2="394.36" stroke="#000" stroke-width="3.4" stroke-linecap="round"/>
<line x1="517.96" x2="517.96" y1="394.37" y2="394.23" stroke="#000" stroke-width="3.4" stroke-linecap="round"/>
<line x1="525.57" x2="525.57" y1="394.24" y2="394.11" stroke="#000" stroke-width="3.4" stroke-linecap="round"/>
<line x1="533.18" x2="533.18" y1="394.12" y2="393.99" stroke="#000" stroke-width="3.4" stroke-linecap="round"/>
<rect x="309.2" y="387.9" width="234.4" height="135.2" fill="none" stroke="#666" stroke-width="1.25"/>
<line x1="306.5" x2="309.2" y1="517" y2="517" stroke="#333" stroke-width="1.1"/>
<text x="304.8" y="519.6" text-anchor="end" font-size="7.6" fill="#4D4D4D" stroke="#4D4D4D" stroke-width="0.3">0.00</text>
<line x1="306.5" x2="309.2" y1="486.25" y2="486.25" stroke="#333" stroke-width="1.1"/>
<text x="304.8" y="488.85" text-anchor="end" font-size="7.6" fill="#4D4D4D" stroke="#4D4D4D" stroke-width="0.3">0.25</text>
<line x1="306.5" x2="309.2" y1="455.5" y2="455.5" stroke="#333" stroke-width="1.1"/>
<text x="304.8" y="458.1" text-anchor="end" font-size="7.6" fill="#4D4D4D" stroke="#4D4D4D" stroke-width="0.3">0.50</text>
<line x1="306.5" x2="309.2" y1="424.75" y2="424.75" stroke="#333" stroke-width="1.1"/>
<text x="304.8" y="427.35" text-anchor="end" font-size="7.6" fill="#4D4D4D" stroke="#4D4D4D" stroke-width="0.3">0.75</text>
<line x1="306.5" x2="309.2" y1="394" y2="394" stroke="#333" stroke-width="1.1"/>
<text x="304.8" y="396.6" text-anchor="end" font-size="7.6" fill="#4D4D4D" stroke="#4D4D4D" stroke-width="0.3">1.00</text>
<line x1="320.1" x2="320.1" y1="523.1" y2="525.8" stroke="#333" stroke-width="1.1"/>
<text x="320.1" y="532.8" text-anchor="middle" font-size="7.6" fill="#4D4D4D" stroke="#4D4D4D" stroke-width="0.3">0</text>
<line x1="396.2" x2="396.2" y1="523.1" y2="525.8" stroke="#333" stroke-width="1.1"/>
<text x="396.2" y="532.8" text-anchor="middle" font-size="7.6" fill="#4D4D4D" stroke="#4D4D4D" stroke-width="0.3">10</text>
<line x1="472.3" x2="472.3" y1="523.1" y2="525.8" stroke="#333" stroke-width="1.1"/>
<text x="472.3" y="532.8" text-anchor="middle" font-size="7.6" fill="#4D4D4D" stroke="#4D4D4D" stroke-width="0.3">20</text>
<text x="426.4" y="543.8" text-anchor="middle" font-size="9.3" fill="#000" stroke="#000" stroke-width="0.25">count value</text>
<text transform="translate(285.2,455.5) rotate(-90)" text-anchor="middle" font-size="9.3" fill="#000" stroke="#000" stroke-width="0.25">CDF</text>
<text x="288.6" y="376.6" font-size="8.4" font-weight="bold" fill="#000" stroke="#000" stroke-width="0.25">Goodness of fit P value = 1.3 &#160;x 10<tspan dy="-3" font-size="5.5">-158</tspan></text>
</svg>
</body></html>
